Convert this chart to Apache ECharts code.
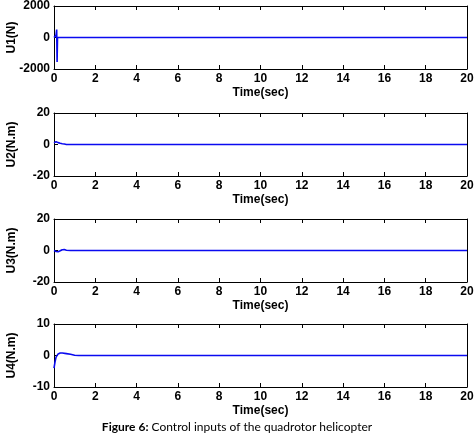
<!DOCTYPE html>
<html>
<head>
<meta charset="utf-8">
<script src="https://cdn.jsdelivr.net/npm/echarts@6/dist/echarts.min.js"></script>
<style>
html,body{margin:0;padding:0;background:#fff;}
#chart{width:474px;height:434px;}
</style>
</head>
<body>
<div id="chart"></div>
<script>
// Data
const xTicks = [0, 2, 4, 6, 8, 10, 12, 14, 16, 18, 20];
const yLabels = ['U1(N)', 'U2(N.m)', 'U3(N.m)', 'U4(N.m)'];
const yRanges = [[-2000, 2000, 2000], [-20, 20, 20], [-20, 20, 20], [-10, 10, 10]];

const u1Time = [0, 0.05, 0.1, 0.13, 0.15, 0.17, 0.2, 20];
const u1Vals = [0, 80, 150, 500, -1550, 0, 0, 0];

const u2Time = [0, 0.05, 0.1, 0.2, 0.3, 0.4, 0.5, 0.6, 1, 20];
const u2Vals = [1, 1.5, 1.8, 1.2, 0.8, 0.5, 0.3, 0, 0, 0];

const u3Time = [0, 0.1, 0.2, 0.3, 0.4, 0.5, 0.6, 0.8, 20];
const u3Vals = [0, -0.6, -0.8, -0.2, 0.5, 0.6, 0.2, 0, 0];

const u4Time = [0, 0.05, 0.1, 0.2, 0.3, 0.4, 0.6, 0.8, 1.0, 1.2, 20];
const u4Vals = [-4, -2, -0.5, 0.5, 0.8, 0.8, 0.6, 0.4, 0.1, 0, 0];

const seriesTimes = [u1Time, u2Time, u3Time, u4Time];
const seriesVals = [u1Vals, u2Vals, u3Vals, u4Vals];

const gridTops = [6, 113, 219, 324];
const gridHeight = 63;

const chart = echarts.init(document.getElementById('chart'), null, {renderer: 'canvas'});
const font = 'Liberation Sans, Arial, sans-serif';
const grids = [], xAxes = [], yAxes = [], series = [];
for (let i = 0; i < 4; i++) {
  grids.push({left: 54, right: 7, top: gridTops[i], height: gridHeight, containLabel: false, outerBoundsMode: 'none'});
  const axLine = {show: true, onZero: false, lineStyle: {color: '#000', width: 1}};
  const tick = {show: true, inside: true, length: 4, lineStyle: {color: '#000', width: 1}};
  xAxes.push({
    type: 'value', gridIndex: i, min: 0, max: 20, interval: 2, position: 'bottom',
    axisLine: axLine, axisTick: tick,
    axisLabel: {show: true, color: '#000', fontSize: 12, fontWeight: 'bold', fontFamily: font, margin: 4,
      formatter: v => String(v)},
    splitLine: {show: false},
    name: 'Time(sec)', nameLocation: 'middle', nameGap: 18, nameMoveOverlap: false,
    nameTextStyle: {color: '#000', fontSize: 12, fontWeight: 'bold', fontFamily: font}
  });
  xAxes.push({
    type: 'value', gridIndex: i, min: 0, max: 20, interval: 2, position: 'top',
    axisLine: axLine, axisTick: tick,
    axisLabel: {show: false}, splitLine: {show: false}
  });
  const r = yRanges[i];
  yAxes.push({
    type: 'value', gridIndex: i, min: r[0], max: r[1], interval: r[2], position: 'left',
    axisLine: axLine, axisTick: tick,
    axisLabel: {show: true, color: '#000', fontSize: 12, fontWeight: 'bold', fontFamily: font, margin: 4,
      formatter: v => String(v)},
    splitLine: {show: false},
    name: yLabels[i], nameLocation: 'middle', nameGap: 36, nameRotate: 90, nameMoveOverlap: false,
    nameTextStyle: {color: '#000', fontSize: 12, fontWeight: 'bold', fontFamily: font}
  });
  yAxes.push({
    type: 'value', gridIndex: i, min: r[0], max: r[1], interval: r[2], position: 'right',
    axisLine: axLine, axisTick: tick,
    axisLabel: {show: false}, splitLine: {show: false}
  });
  const t = seriesTimes[i], v = seriesVals[i];
  series.push({
    type: 'line', xAxisIndex: 2 * i, yAxisIndex: 2 * i,
    data: t.map((x, k) => [x, v[k]]),
    showSymbol: false, symbol: 'none', smooth: false, animation: false,
    lineStyle: {color: '#0a0af0', width: 1.6}
  });
}

chart.setOption({
  animation: false,
  backgroundColor: '#fff',
  grid: grids,
  xAxis: xAxes,
  yAxis: yAxes,
  series: series,
  graphic: [{
    type: 'text', left: 'center', top: 421,
    style: {
      text: '{b|Figure 6:} Control inputs of the quadrotor helicopter',
      font: '12px Lato, Open Sans, sans-serif', fill: '#000',
      rich: {b: {fontWeight: 'bold', fontSize: 12, fontFamily: 'Lato, Open Sans, sans-serif', fill: '#000'}}
    }
  }]
});
</script>
</body>
</html>
